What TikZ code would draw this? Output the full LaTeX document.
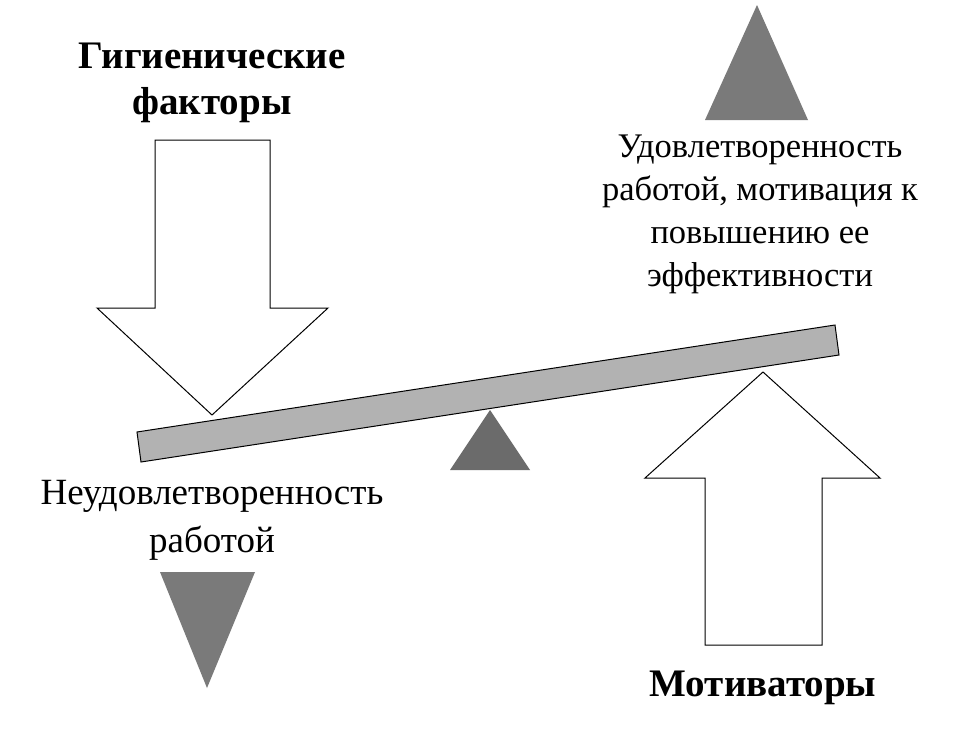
\documentclass[tikz,border=0pt]{standalone}
\usepackage{fontspec}
\setmainfont{Liberation Serif}
\begin{document}
\begin{tikzpicture}[x=1pt,y=-1pt,
  lbl/.style={font=\fontsize{34.5}{43}\selectfont,align=center,inner sep=0pt},
  blbl/.style={align=center,inner sep=0pt,font=\fontsize{39}{46}\selectfont\bfseries},
  arr/.style={draw=black,line width=1pt,fill=white,line join=miter}]
\useasboundingbox[fill=white] (0,0) rectangle (958,736);
% down arrow
\draw[arr] (155,140) -- (270,140) -- (270,308) -- (328,308) -- (212,415) -- (97,308) -- (155,308) -- cycle;
% up arrow
\draw[arr] (705,645) -- (822,645) -- (822,478) -- (880,478) -- (763,372) -- (645,478) -- (705,478) -- cycle;
% beam
\draw[fill=black!30,line width=1pt] (137,432) -- (835,325) -- (839,355) -- (141,462) -- cycle;
% fulcrum
\fill[black!58] (450,470) -- (530,470) -- (490,410) -- cycle;
% triangles
\fill[black!52] (705,120) -- (808,120) -- (757,5) -- cycle;
\fill[black!52] (160,572) -- (255,572) -- (207,688) -- cycle;
% texts
\node[blbl] (hyg) at (212,83) {Гигиенические\\факторы};
\node[lbl] (sat) at (760,214) {Удовлетворенность\\работой, мотивация к\\повышению ее\\эффективности};
\node[lbl,font=\fontsize{37}{48}\selectfont] (dis) at (212,520) {Неудовлетворенность\\работой};
\node[blbl] (mot) at (763,688) {Мотиваторы};
\end{tikzpicture}
\end{document}
